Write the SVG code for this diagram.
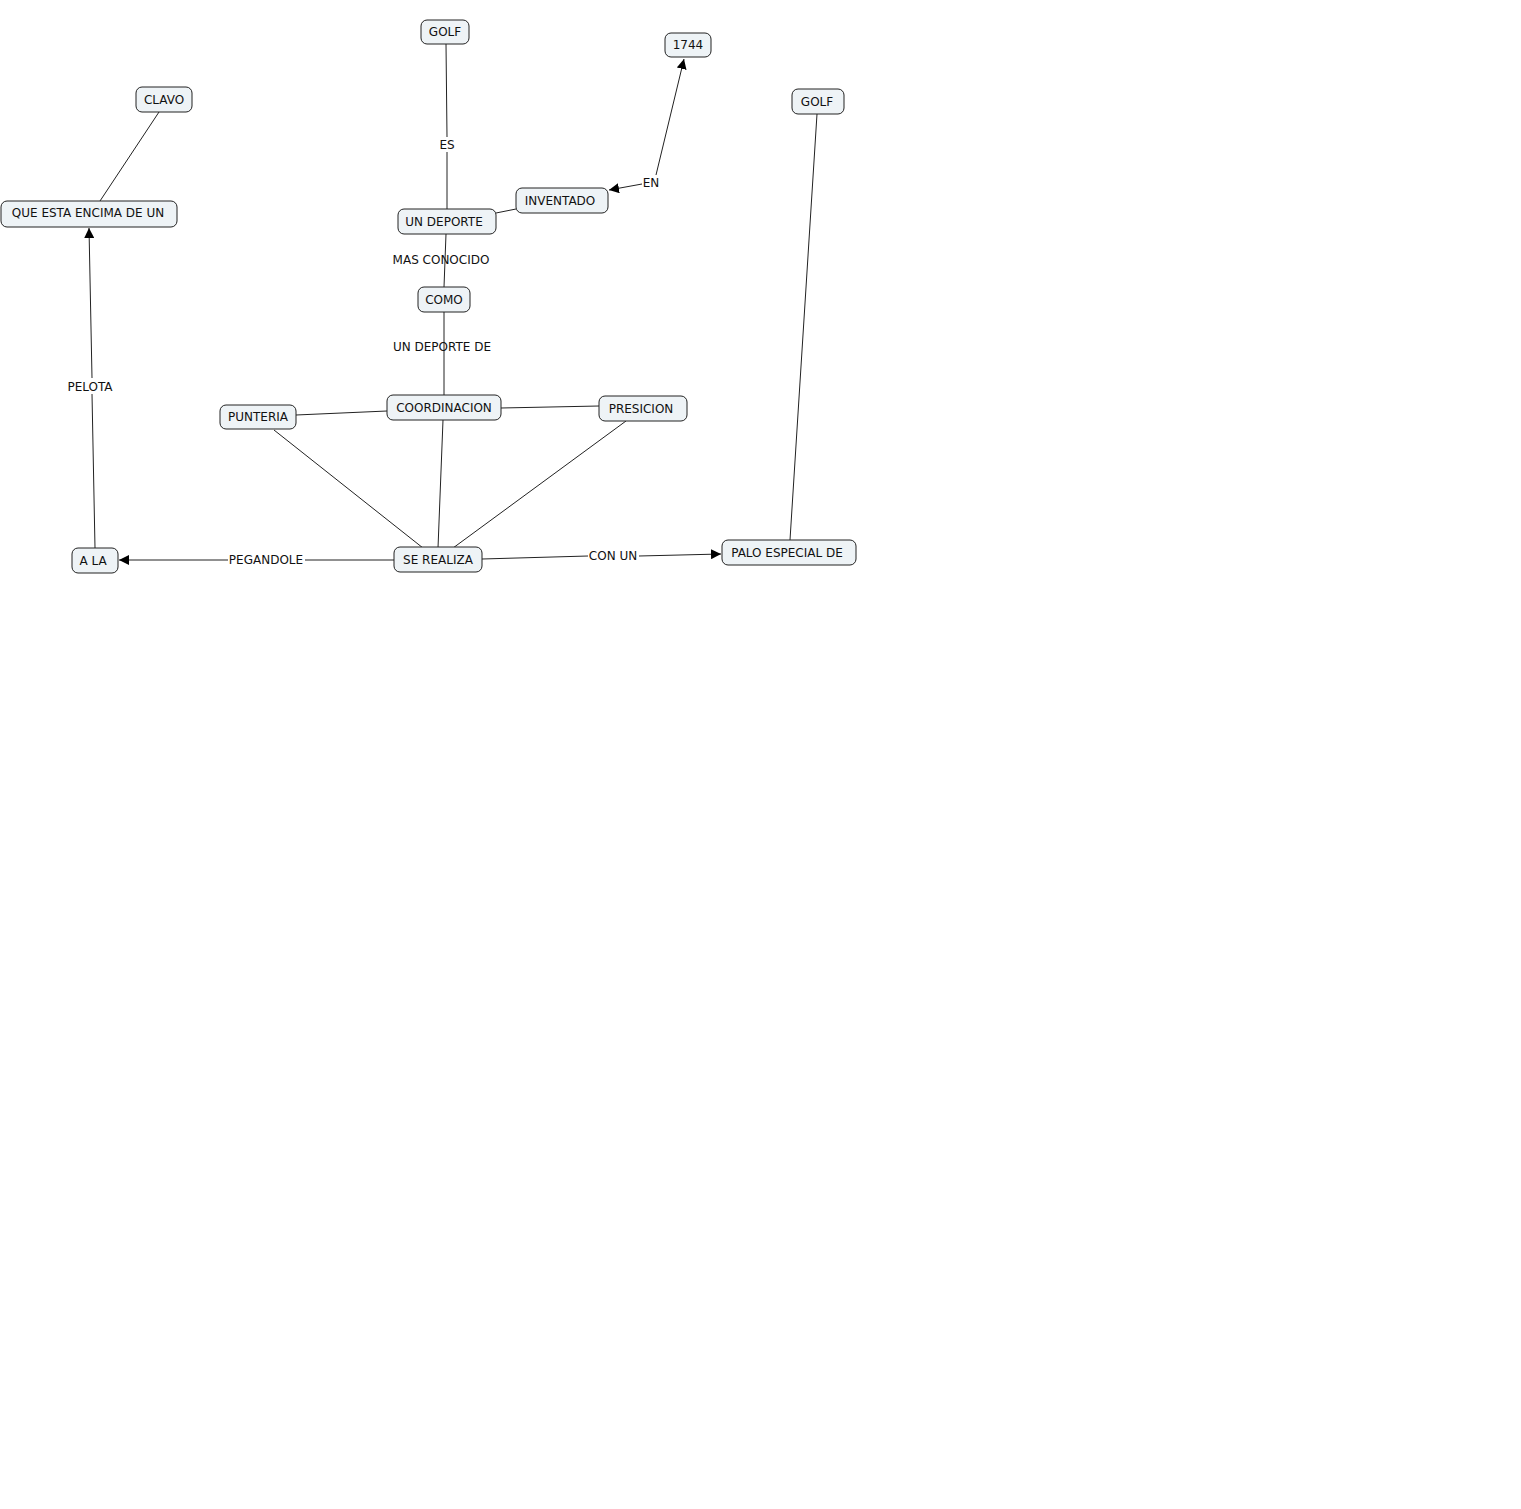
<svg xmlns="http://www.w3.org/2000/svg" width="1521" height="1509" viewBox="0 0 1521 1509">
<defs>
<style>
.n rect{fill:#eef3f6;stroke:#222;stroke-width:1}
.n text,.l{font-family:"DejaVu Sans",Verdana,sans-serif;font-size:12px;fill:#111;text-anchor:middle;dominant-baseline:central}
.c line,.c path{stroke:#222;stroke-width:1;fill:none}
</style>
<marker id="a" viewBox="0 0 10 10" refX="10" refY="5" markerWidth="10" markerHeight="10" markerUnits="userSpaceOnUse" orient="auto"><path d="M0,0L10,5L0,10z" fill="#000"/></marker>
</defs>
<rect width="1521" height="1509" fill="#fff"/>
<g id="connectors" class="c">
<line x1="446" y1="44" x2="447" y2="137"/>
<line x1="447" y1="152" x2="447" y2="209"/>
<line x1="496" y1="213" x2="516" y2="209"/>
<line x1="656" y1="175" x2="684" y2="59" marker-end="url(#a)"/>
<line x1="642" y1="184" x2="609" y2="190" marker-end="url(#a)"/>
<line x1="446" y1="234" x2="444" y2="287"/>
<line x1="444" y1="312" x2="444" y2="395"/>
<line x1="296" y1="415" x2="387" y2="411"/>
<line x1="501" y1="408" x2="599" y2="406"/>
<line x1="274" y1="430" x2="423" y2="548"/>
<line x1="443" y1="420" x2="438" y2="548"/>
<line x1="626" y1="421" x2="453" y2="548"/>
<line x1="394" y1="560" x2="305" y2="560"/>
<line x1="228" y1="560" x2="119" y2="560" marker-end="url(#a)"/>
<line x1="482" y1="559" x2="588" y2="556"/>
<line x1="639" y1="556" x2="721" y2="554" marker-end="url(#a)"/>
<line x1="95" y1="548" x2="92" y2="394"/>
<line x1="92" y1="378" x2="89" y2="228" marker-end="url(#a)"/>
<line x1="100" y1="201" x2="159" y2="112"/>
<line x1="817" y1="114" x2="790" y2="540"/>
<text class="l" x="447" y="145">ES</text>
<text class="l" x="651" y="183">EN</text>
<text class="l" x="441" y="260">MAS CONOCIDO</text>
<text class="l" x="442" y="347">UN DEPORTE DE</text>
<text class="l" x="266" y="560">PEGANDOLE</text>
<text class="l" x="613" y="556">CON UN</text>
<text class="l" x="90" y="387">PELOTA</text>
</g>
<g id="n-golf1" class="n"><rect x="421" y="20" width="48" height="24" rx="6"/><text x="445" y="32">GOLF</text></g>
<g id="n-1744" class="n"><rect x="665" y="33" width="46" height="24" rx="6"/><text x="688" y="45">1744</text></g>
<g id="n-clavo" class="n"><rect x="136" y="87" width="56" height="25" rx="6"/><text x="164" y="100">CLAVO</text></g>
<g id="n-golf2" class="n"><rect x="792" y="89" width="52" height="25" rx="6"/><text x="817" y="102">GOLF</text></g>
<g id="n-que" class="n"><rect x="1" y="201" width="176" height="26" rx="6"/><text x="88" y="213">QUE ESTA ENCIMA DE UN</text></g>
<g id="n-inventado" class="n"><rect x="516" y="188" width="92" height="25" rx="6"/><text x="560" y="201">INVENTADO</text></g>
<g id="n-undeporte" class="n"><rect x="398" y="209" width="98" height="25" rx="6"/><text x="444" y="222">UN DEPORTE</text></g>
<g id="n-como" class="n"><rect x="418" y="287" width="52" height="25" rx="6"/><text x="444" y="300">COMO</text></g>
<g id="n-coordinacion" class="n"><rect x="387" y="395" width="114" height="25" rx="6"/><text x="444" y="408">COORDINACION</text></g>
<g id="n-punteria" class="n"><rect x="220" y="405" width="76" height="24" rx="6"/><text x="258" y="417">PUNTERIA</text></g>
<g id="n-presicion" class="n"><rect x="599" y="396" width="88" height="25" rx="6"/><text x="641" y="409">PRESICION</text></g>
<g id="n-ala" class="n"><rect x="72" y="548" width="46" height="25" rx="6"/><text x="93" y="561">A LA</text></g>
<g id="n-serealiza" class="n"><rect x="394" y="547" width="88" height="25" rx="6"/><text x="438" y="560">SE REALIZA</text></g>
<g id="n-palo" class="n"><rect x="722" y="540" width="134" height="25" rx="6"/><text x="787" y="553">PALO ESPECIAL DE</text></g>
</svg>
